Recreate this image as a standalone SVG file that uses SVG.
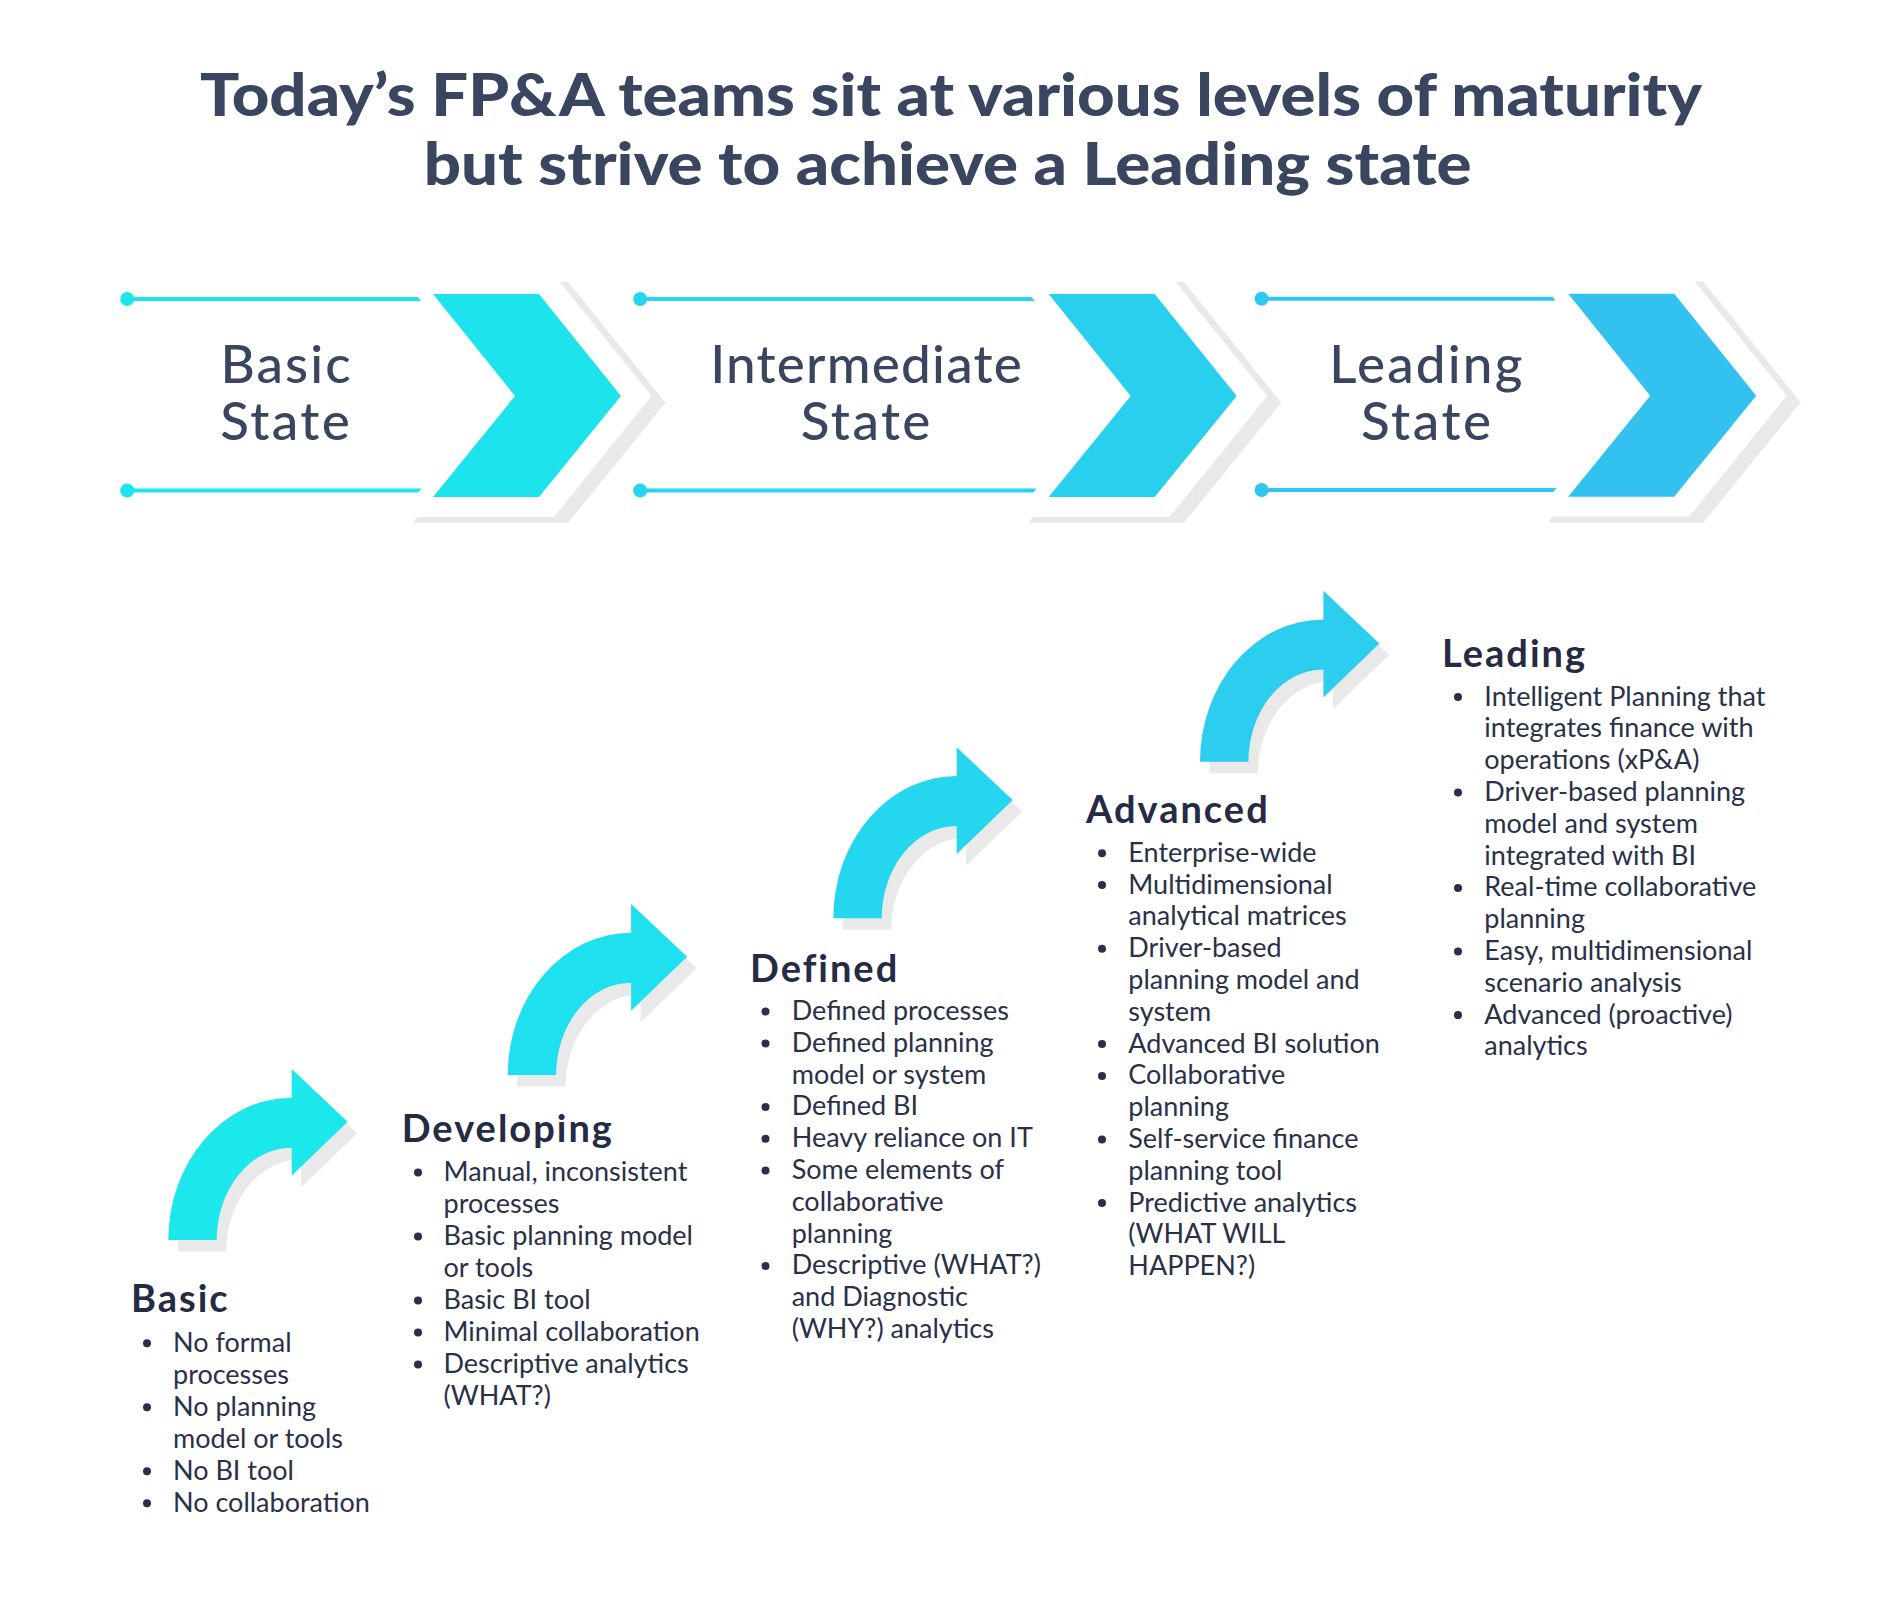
<svg xmlns="http://www.w3.org/2000/svg" width="1900" height="1599" viewBox="0 0 1900 1599">
<style>
.title{font-family:Lato,"Liberation Sans",sans-serif;font-weight:900;font-size:59px;fill:#3A4660;text-anchor:middle}
.state{font-family:Lato,"Liberation Sans",sans-serif;font-weight:500;font-size:53px;fill:#3A4560;text-anchor:middle}
.head{font-family:Lato,"Liberation Sans",sans-serif;font-weight:700;font-size:38px;fill:#252B42;letter-spacing:2px}
.item{font-family:Lato,"Liberation Sans",sans-serif;font-weight:400;font-size:27px;fill:#2A3048}
.dot{fill:#2A3048}
.shadow{fill:#E9E9E9}
</style>
<defs>
<polygon id="chev" points="0,0 106,0 188,102 106,203 0,203 82,102"/>
<polygon id="chevShadow" points="126.6,-12.2 135.1,-12.2 232.5,108.8 135.1,228.8 -19.9,228.8 -15.9,223.1 120.8,223.1 218.5,101.9"/>
<path id="curl" d="M0,0 A123.4,142.3 0 0 1 123.4,-142.3 L123.4,-171 L179.4,-118.3 L123.4,-64.3 L123.4,-92.3 A75,92.3 0 0 0 48.4,0 Z"/>
</defs>
<rect width="1900" height="1599" fill="#FFFFFF"/>

<g id="title">
<text class="title" x="951" y="116" textLength="1502" lengthAdjust="spacingAndGlyphs">Today’s FP&amp;A teams sit at various levels of maturity</text>
<text class="title" x="947.7" y="185" textLength="1048" lengthAdjust="spacingAndGlyphs">but strive to achieve a Leading state</text>
</g>

<g id="state-basic">
<use href="#chevShadow" class="shadow" transform="translate(433,294)"/>
<use href="#chev" fill="#1DE3ED" transform="translate(433,294)"/>
<polygon fill="#1DE5EC" points="127.2,297 418,297 421.2,301 127.2,301"/>
<polygon fill="#1DE5EC" points="127.2,488.5 421.5,488.5 418.3,492.5 127.2,492.5"/>
<circle fill="#1DE5EC" cx="127.2" cy="299" r="7"/>
<circle fill="#1DE5EC" cx="127.2" cy="490.5" r="7"/>
<text class="state" x="285.5" y="382.7" textLength="130" lengthAdjust="spacing">Basic</text>
<text class="state" x="285" y="440" textLength="129.6" lengthAdjust="spacing">State</text>
</g>

<g id="state-intermediate">
<use href="#chevShadow" class="shadow" transform="translate(1048.7,294)"/>
<use href="#chev" fill="#28D0EE" transform="translate(1048.7,294)"/>
<polygon fill="#27D6EE" points="640.2,297 1031.5,297 1034.7,301 640.2,301"/>
<polygon fill="#27D6EE" points="640.2,488.5 1036.5,488.5 1033.3,492.5 640.2,492.5"/>
<circle fill="#27D6EE" cx="640.2" cy="299" r="7"/>
<circle fill="#27D6EE" cx="640.2" cy="490.5" r="7"/>
<text class="state" x="866" y="382.7" textLength="311.6" lengthAdjust="spacing">Intermediate</text>
<text class="state" x="865.6" y="440" textLength="129.5" lengthAdjust="spacing">State</text>
</g>

<g id="state-leading">
<use href="#chevShadow" class="shadow" transform="translate(1568.2,293.7)"/>
<use href="#chev" fill="#33C2F0" transform="translate(1568.2,293.7)"/>
<polygon fill="#31C6EF" points="1261.6,296.7 1552.5,296.7 1555.7,300.7 1261.6,300.7"/>
<polygon fill="#31C6EF" points="1261.6,488 1556.5,488 1553.3,492 1261.6,492"/>
<circle fill="#31C6EF" cx="1261.6" cy="298.7" r="7"/>
<circle fill="#31C6EF" cx="1261.6" cy="490" r="7"/>
<text class="state" x="1425.8" y="382.7" textLength="193" lengthAdjust="spacing">Leading</text>
<text class="state" x="1426" y="440" textLength="130" lengthAdjust="spacing">State</text>
</g>

<g id="connectors">
<use href="#curl" class="shadow" transform="translate(177.8,1251.5)"/>
<use href="#curl" fill="#1CE8EC" transform="translate(168.3,1240)"/>
<use href="#curl" class="shadow" transform="translate(517.2,1086.5)"/>
<use href="#curl" fill="#1FE0EE" transform="translate(507.7,1075)"/>
<use href="#curl" class="shadow" transform="translate(842.8,929.8)"/>
<use href="#curl" fill="#25D7EE" transform="translate(833.3,918.3)"/>
<use href="#curl" class="shadow" transform="translate(1209.5,773.2)"/>
<use href="#curl" fill="#2CCDEE" transform="translate(1200,761.7)"/>
</g>

<g id="stage-basic">
<text class="head" x="131" y="1311.7">Basic</text>
<circle class="dot" cx="147" cy="1343.3" r="4"/>
<circle class="dot" cx="147" cy="1407.3" r="4"/>
<circle class="dot" cx="147" cy="1471.3" r="4"/>
<circle class="dot" cx="147" cy="1503.3" r="4"/>
<text class="item">
<tspan x="173" y="1351.7">No formal</tspan>
<tspan x="173" y="1383.7">processes</tspan>
<tspan x="173" y="1415.7">No planning</tspan>
<tspan x="173" y="1447.7">model or tools</tspan>
<tspan x="173" y="1479.7">No BI tool</tspan>
<tspan x="173" y="1511.7">No collaboration</tspan>
</text>
</g>

<g id="stage-developing">
<text class="head" x="401.7" y="1141.7">Developing</text>
<circle class="dot" cx="418" cy="1172.6" r="4"/>
<circle class="dot" cx="418" cy="1236.6" r="4"/>
<circle class="dot" cx="418" cy="1300.6" r="4"/>
<circle class="dot" cx="418" cy="1332.6" r="4"/>
<circle class="dot" cx="418" cy="1364.6" r="4"/>
<text class="item">
<tspan x="443.5" y="1181">Manual, inconsistent</tspan>
<tspan x="443.5" y="1213">processes</tspan>
<tspan x="443.5" y="1245">Basic planning model</tspan>
<tspan x="443.5" y="1277">or tools</tspan>
<tspan x="443.5" y="1309">Basic BI tool</tspan>
<tspan x="443.5" y="1341">Minimal collaboration</tspan>
<tspan x="443.5" y="1373">Descriptive analytics</tspan>
<tspan x="443.5" y="1405">(WHAT?)</tspan>
</text>
</g>

<g id="stage-defined">
<text class="head" x="750" y="981.7">Defined</text>
<circle class="dot" cx="765.5" cy="1011.6" r="4"/>
<circle class="dot" cx="765.5" cy="1043.4" r="4"/>
<circle class="dot" cx="765.5" cy="1107" r="4"/>
<circle class="dot" cx="765.5" cy="1138.8" r="4"/>
<circle class="dot" cx="765.5" cy="1170.6" r="4"/>
<circle class="dot" cx="765.5" cy="1266" r="4"/>
<text class="item">
<tspan x="791.7" y="1020">Defined processes</tspan>
<tspan x="791.7" y="1051.8">Defined planning</tspan>
<tspan x="791.7" y="1083.6">model or system</tspan>
<tspan x="791.7" y="1115.4">Defined BI</tspan>
<tspan x="791.7" y="1147.2">Heavy reliance on IT</tspan>
<tspan x="791.7" y="1179">Some elements of</tspan>
<tspan x="791.7" y="1210.8">collaborative</tspan>
<tspan x="791.7" y="1242.6">planning</tspan>
<tspan x="791.7" y="1274.4">Descriptive (WHAT?)</tspan>
<tspan x="791.7" y="1306.2">and Diagnostic</tspan>
<tspan x="791.7" y="1338">(WHY?) analytics</tspan>
</text>
</g>

<g id="stage-advanced">
<text class="head" x="1086" y="823.3">Advanced</text>
<circle class="dot" cx="1102" cy="853.3" r="4"/>
<circle class="dot" cx="1102" cy="885.1" r="4"/>
<circle class="dot" cx="1102" cy="948.7" r="4"/>
<circle class="dot" cx="1102" cy="1044.1" r="4"/>
<circle class="dot" cx="1102" cy="1075.9" r="4"/>
<circle class="dot" cx="1102" cy="1139.5" r="4"/>
<circle class="dot" cx="1102" cy="1203.1" r="4"/>
<text class="item">
<tspan x="1128.3" y="861.7">Enterprise-wide</tspan>
<tspan x="1128.3" y="893.5">Multidimensional</tspan>
<tspan x="1128.3" y="925.3">analytical matrices</tspan>
<tspan x="1128.3" y="957.1">Driver-based</tspan>
<tspan x="1128.3" y="988.9">planning model and</tspan>
<tspan x="1128.3" y="1020.7">system</tspan>
<tspan x="1128.3" y="1052.5">Advanced BI solution</tspan>
<tspan x="1128.3" y="1084.3">Collaborative</tspan>
<tspan x="1128.3" y="1116.1">planning</tspan>
<tspan x="1128.3" y="1147.9">Self-service finance</tspan>
<tspan x="1128.3" y="1179.7">planning tool</tspan>
<tspan x="1128.3" y="1211.5">Predictive analytics</tspan>
<tspan x="1128.3" y="1243.3">(WHAT WILL</tspan>
<tspan x="1128.3" y="1275.1">HAPPEN?)</tspan>
</text>
</g>

<g id="stage-leading">
<text class="head" x="1442" y="666.5">Leading</text>
<circle class="dot" cx="1458" cy="697.1" r="4"/>
<circle class="dot" cx="1458" cy="792.5" r="4"/>
<circle class="dot" cx="1458" cy="887.9" r="4"/>
<circle class="dot" cx="1458" cy="951.5" r="4"/>
<circle class="dot" cx="1458" cy="1015.1" r="4"/>
<text class="item">
<tspan x="1484.3" y="705.5">Intelligent Planning that</tspan>
<tspan x="1484.3" y="737.3">integrates finance with</tspan>
<tspan x="1484.3" y="769.1">operations (xP&amp;A)</tspan>
<tspan x="1484.3" y="800.9">Driver-based planning</tspan>
<tspan x="1484.3" y="832.7">model and system</tspan>
<tspan x="1484.3" y="864.5">integrated with BI</tspan>
<tspan x="1484.3" y="896.3">Real-time collaborative</tspan>
<tspan x="1484.3" y="928.1">planning</tspan>
<tspan x="1484.3" y="959.9">Easy, multidimensional</tspan>
<tspan x="1484.3" y="991.7">scenario analysis</tspan>
<tspan x="1484.3" y="1023.5">Advanced (proactive)</tspan>
<tspan x="1484.3" y="1055.3">analytics</tspan>
</text>
</g>
</svg>
